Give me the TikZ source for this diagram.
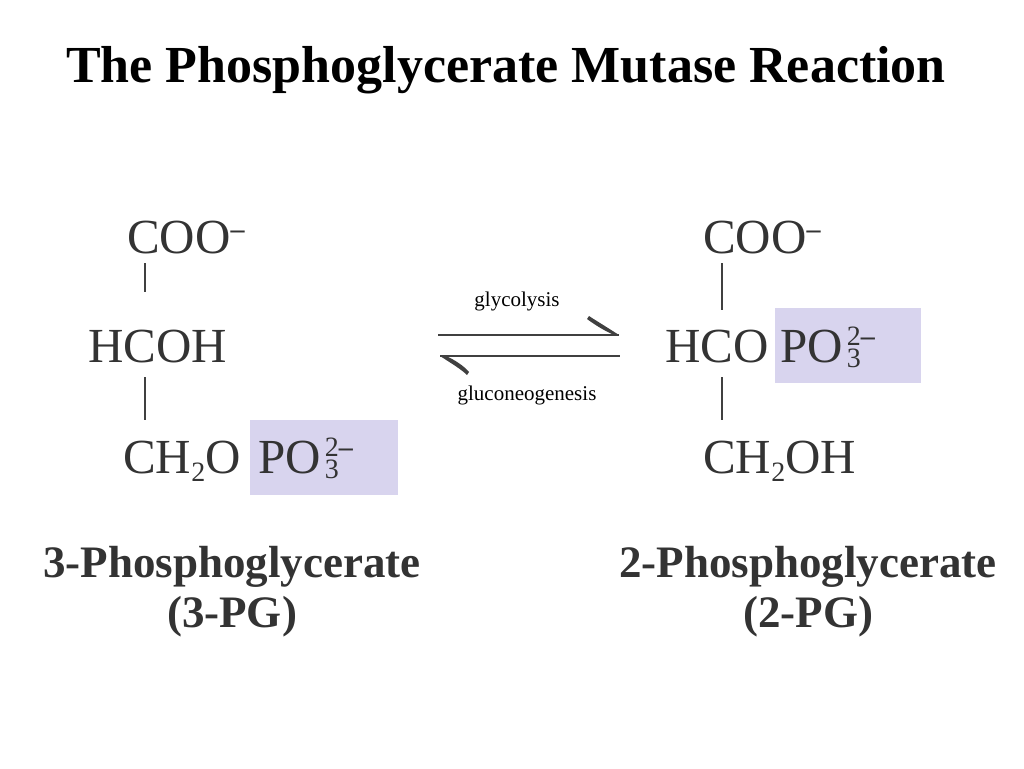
\documentclass[tikz,border=0pt]{standalone}
\usepackage{fontspec}
\setmainfont{Liberation Serif}
\definecolor{lav}{RGB}{216,212,238}
\newcommand{\poch}{PO\kern4pt\rlap{\raisebox{17pt}{\fontsize{28}{28}\selectfont 2\textbf{–}}}\raisebox{-5pt}{\fontsize{28}{28}\selectfont 3}}
\begin{document}
\begin{tikzpicture}[x=1pt,y=-1pt,
  chem/.style={text=black!80,font=\fontsize{49}{49}\selectfont,inner sep=0pt,anchor=base west},
  molname/.style={text=black!80,font=\fontsize{45}{50}\selectfont\bfseries,inner sep=0pt,anchor=base},
  lab/.style={font=\fontsize{21}{24}\selectfont,inner sep=0pt},
  bond/.style={black!75,line width=2pt},
  arr/.style={black!75,line width=2.4pt},
  hl/.style={fill=lav,draw=none}]
\useasboundingbox (0,0) rectangle (1024,768);
\node[font=\fontsize{52}{56}\selectfont\bfseries,anchor=base,inner sep=0pt] (title) at (506,82) {The Phosphoglycerate Mutase Reaction};
% highlights
\fill[hl] (250,420) rectangle (398,495);
\fill[hl] (775,308) rectangle (921,383);
% left molecule
\node[chem] (l1) at (127,253) {COO\raisebox{15pt}{\fontsize{28}{28}\selectfont\textbf{–}}};
\node[chem] (l2) at (88,362) {HCOH};
\node[chem] (l3) at (123,473) {CH\raisebox{-8pt}{\fontsize{28}{28}\selectfont 2}O};
\node[chem] (l4) at (258,473) {\poch};
\draw[bond] (145,263) -- (145,292);
\draw[bond] (145,377) -- (145,420);
% right molecule
\node[chem] (r1) at (703,253) {COO\raisebox{15pt}{\fontsize{28}{28}\selectfont\textbf{–}}};
\node[chem] (r2) at (665,362) {HCO};
\node[chem] (r4) at (780,362) {\poch};
\node[chem] (r3) at (703,473) {CH\raisebox{-8pt}{\fontsize{28}{28}\selectfont 2}OH};
\draw[bond] (722,263) -- (722,310);
\draw[bond] (722,377) -- (722,420);
% names
\node[molname] (ln) at (232,577) {3-Phosphoglycerate};
\node[molname] (ln2) at (232,627) {(3-PG)};
\node[molname] (rn) at (808,577) {2-Phosphoglycerate};
\node[molname] (rn2) at (808,627) {(2-PG)};
% arrows
\coordinate (a1) at (438,335); \coordinate (a2) at (619,335);
\coordinate (b1) at (440,356); \coordinate (b2) at (620,356);
\draw[arr] (a1) -- (a2);
\fill[black!75] (a2) .. controls (605,326) and (595,320) .. (589,316) -- (587,319) .. controls (595,325) and (605,331) .. (614,335) -- cycle;
\draw[arr] (b1) -- (b2);
\fill[black!75] (b1) .. controls (454,365) and (462,370) .. (467,375) -- (469,372) .. controls (464,366) and (455,360) .. (446,356) -- cycle;
\node[lab] (g1) at (517,301) {glycolysis};
\node[lab] (g2) at (527,395) {gluconeogenesis};
\end{tikzpicture}
\end{document}
